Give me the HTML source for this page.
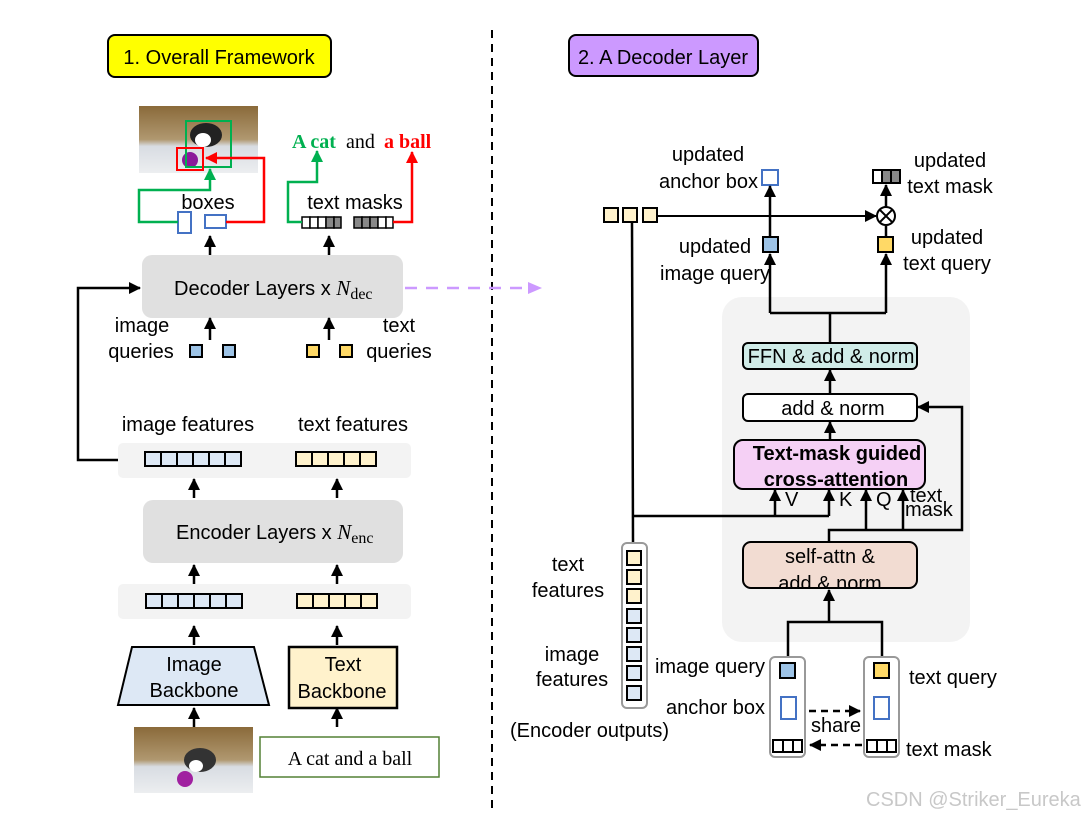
<!DOCTYPE html>
<html><head><meta charset="utf-8"><style>
html,body{margin:0;padding:0;background:#fff;}
svg{display:block;}
text{font-family:"Liberation Sans",sans-serif;font-size:20px;fill:#000;}
.s{font-family:"Liberation Serif",serif;}
</style></head><body>
<svg width="1081" height="817" viewBox="0 0 1081 817" xmlns="http://www.w3.org/2000/svg">
<defs>
<marker id="ak2" markerWidth="12" markerHeight="12" refX="11" refY="6" orient="auto" markerUnits="userSpaceOnUse"><path d="M0,0 L12,6 L0,12 z" fill="#000"/></marker>
<marker id="ag" markerWidth="12" markerHeight="12" refX="11" refY="6" orient="auto" markerUnits="userSpaceOnUse"><path d="M0,0 L12,6 L0,12 z" fill="#00b050"/></marker>
<marker id="ar" markerWidth="12" markerHeight="12" refX="11" refY="6" orient="auto" markerUnits="userSpaceOnUse"><path d="M0,0 L12,6 L0,12 z" fill="#ff0000"/></marker>
<linearGradient id="img" x1="0" y1="0" x2="0" y2="1"><stop offset="0" stop-color="#8a6a3a"/><stop offset="0.5" stop-color="#b09870"/><stop offset="0.6" stop-color="#d8dce2"/><stop offset="1" stop-color="#eceef0"/></linearGradient>
<clipPath id="sa"><rect x="743" y="542" width="174" height="46"/></clipPath>
</defs>

<rect x="108" y="35" width="223" height="42" rx="7" fill="#ffff00" stroke="#000" stroke-width="2"/>
<text x="219" y="64" font-size="21" text-anchor="middle">1. Overall Framework</text>
<rect x="569" y="35" width="189" height="41" rx="7" fill="#cc99ff" stroke="#000" stroke-width="2"/>
<text x="663" y="64" font-size="21" text-anchor="middle">2. A Decoder Layer</text>
<line x1="492" y1="30" x2="492" y2="812" stroke="#000" stroke-width="2" stroke-dasharray="8,6"/>

<rect x="139" y="106" width="119" height="67" fill="url(#img)"/>
<ellipse cx="206" cy="135" rx="16" ry="12" fill="#222"/><ellipse cx="203" cy="140" rx="8" ry="7" fill="#fff"/>
<circle cx="190" cy="160" r="8" fill="#8b1a9a"/>
<rect x="186" y="121" width="45" height="46" fill="none" stroke="#00b050" stroke-width="2"/>
<rect x="177" y="148" width="26" height="22" fill="none" stroke="#ff0000" stroke-width="2"/>

<text x="292" y="148" class="s" font-size="21" font-weight="bold" style="fill:#00b050">A cat</text>
<text x="346" y="148" class="s" font-size="21">and</text>
<text x="384" y="148" class="s" font-size="21" font-weight="bold" style="fill:#ff0000">a ball</text>

<text x="208" y="209" text-anchor="middle">boxes</text>
<rect x="178" y="212" width="13" height="21" fill="#fff" stroke="#4472c4" stroke-width="2"/>
<rect x="205" y="215" width="21" height="13" fill="#fff" stroke="#4472c4" stroke-width="2"/>
<polyline points="178,222 139,222 139,190 210,190 210,169" fill="none" stroke="#00b050" stroke-width="2.5" marker-end="url(#ag)"/>
<polyline points="226,222 264,222 264,158 206,158" fill="none" stroke="#ff0000" stroke-width="2.5" marker-end="url(#ar)"/>

<text x="355" y="209" text-anchor="middle">text masks</text>
<g stroke="#000" stroke-width="1.5">
<rect x="302" y="217" width="8" height="11" fill="#fff"/><rect x="310" y="217" width="8" height="11" fill="#fff"/><rect x="318" y="217" width="8" height="11" fill="#fff"/><rect x="326" y="217" width="8" height="11" fill="#888"/><rect x="334" y="217" width="7" height="11" fill="#888"/>
<rect x="354" y="217" width="8" height="11" fill="#888"/><rect x="362" y="217" width="8" height="11" fill="#888"/><rect x="370" y="217" width="8" height="11" fill="#888"/><rect x="378" y="217" width="8" height="11" fill="#fff"/><rect x="386" y="217" width="7" height="11" fill="#fff"/>
</g>
<polyline points="302,222 288,222 288,182 317,182 317,151" fill="none" stroke="#00b050" stroke-width="2.5" marker-end="url(#ag)"/>
<polyline points="393,222 412,222 412,152" fill="none" stroke="#ff0000" stroke-width="2.5" marker-end="url(#ar)"/>

<g stroke="#000" stroke-width="2.5">
<line x1="210" y1="255" x2="210" y2="236" marker-end="url(#ak2)"/>
<line x1="329" y1="255" x2="329" y2="236" marker-end="url(#ak2)"/>
</g>

<rect x="142" y="255" width="261" height="63" rx="10" fill="#e0e0e0"/>
<text x="174" y="295">Decoder Layers x <tspan class="s" font-style="italic" font-size="21">N</tspan><tspan class="s" font-size="16" dy="4">dec</tspan></text>
<line x1="405" y1="288" x2="528" y2="288" stroke="#cc99ff" stroke-width="2.5" stroke-dasharray="12,9"/>
<path d="M528,282 L542,288 L528,294 z" fill="#cc99ff"/>
<polyline points="118,460 78,460 78,288 140,288" fill="none" stroke="#000" stroke-width="2.5" marker-end="url(#ak2)"/>

<text x="142" y="332" text-anchor="middle">image</text><text x="141" y="358" text-anchor="middle">queries</text>
<text x="399" y="332" text-anchor="middle">text</text><text x="399" y="358" text-anchor="middle">queries</text>
<g stroke="#000" stroke-width="2">
<rect x="190" y="345" width="12" height="12" fill="#9dc3e6"/><rect x="223" y="345" width="12" height="12" fill="#9dc3e6"/>
<rect x="307" y="345" width="12" height="12" fill="#ffd966"/><rect x="340" y="345" width="12" height="12" fill="#ffd966"/>
</g>
<g stroke="#000" stroke-width="2.5">
<line x1="210" y1="340" x2="210" y2="318" marker-end="url(#ak2)"/>
<line x1="329" y1="340" x2="329" y2="318" marker-end="url(#ak2)"/>
</g>

<text x="188" y="431" text-anchor="middle">image features</text><text x="353" y="431" text-anchor="middle">text features</text>
<rect x="118" y="443" width="293" height="35" rx="5" fill="#f3f3f3"/>
<rect x="118" y="584" width="293" height="35" rx="5" fill="#f3f3f3"/>
<g stroke="#000" stroke-width="2">
<g fill="#dde8f5">
<rect x="145" y="452" width="16" height="14"/><rect x="161" y="452" width="16" height="14"/><rect x="177" y="452" width="16" height="14"/><rect x="193" y="452" width="16" height="14"/><rect x="209" y="452" width="16" height="14"/><rect x="225" y="452" width="16" height="14"/>
<rect x="146" y="594" width="16" height="14"/><rect x="162" y="594" width="16" height="14"/><rect x="178" y="594" width="16" height="14"/><rect x="194" y="594" width="16" height="14"/><rect x="210" y="594" width="16" height="14"/><rect x="226" y="594" width="16" height="14"/>
</g>
<g fill="#fff2cc">
<rect x="296" y="452" width="16" height="14"/><rect x="312" y="452" width="16" height="14"/><rect x="328" y="452" width="16" height="14"/><rect x="344" y="452" width="16" height="14"/><rect x="360" y="452" width="16" height="14"/>
<rect x="297" y="594" width="16" height="14"/><rect x="313" y="594" width="16" height="14"/><rect x="329" y="594" width="16" height="14"/><rect x="345" y="594" width="16" height="14"/><rect x="361" y="594" width="16" height="14"/>
</g>
</g>
<rect x="143" y="500" width="260" height="63" rx="10" fill="#e0e0e0"/>
<text x="176" y="539">Encoder Layers x <tspan class="s" font-style="italic" font-size="21">N</tspan><tspan class="s" font-size="16" dy="4">enc</tspan></text>
<g stroke="#000" stroke-width="2.5">
<line x1="194" y1="498" x2="194" y2="479" marker-end="url(#ak2)"/><line x1="337" y1="498" x2="337" y2="479" marker-end="url(#ak2)"/>
<line x1="194" y1="584" x2="194" y2="565" marker-end="url(#ak2)"/><line x1="337" y1="584" x2="337" y2="565" marker-end="url(#ak2)"/>
<line x1="194" y1="645" x2="194" y2="626" marker-end="url(#ak2)"/><line x1="337" y1="645" x2="337" y2="626" marker-end="url(#ak2)"/>
<line x1="194" y1="727" x2="194" y2="708" marker-end="url(#ak2)"/><line x1="337" y1="727" x2="337" y2="708" marker-end="url(#ak2)"/>
</g>
<polygon points="132,647 254,647 269,705 118,705" fill="#dde8f5" stroke="#000" stroke-width="2"/>
<text x="194" y="671" text-anchor="middle">Image</text><text x="194" y="697" text-anchor="middle">Backbone</text>
<rect x="289" y="647" width="108" height="61" fill="#fff2cc" stroke="#000" stroke-width="2.5"/>
<text x="343" y="671" text-anchor="middle">Text</text><text x="342" y="698" text-anchor="middle">Backbone</text>
<rect x="134" y="727" width="119" height="66" fill="url(#img)"/>
<ellipse cx="200" cy="760" rx="16" ry="12" fill="#333"/><ellipse cx="196" cy="766" rx="7" ry="6" fill="#fff"/>
<circle cx="185" cy="779" r="8" fill="#a020a0"/>
<rect x="260" y="737" width="179" height="40" fill="#fff" stroke="#538135" stroke-width="1.5"/>
<text x="350" y="765" class="s" font-size="23" text-anchor="middle">A cat and a ball</text>
<text x="50" y="840" class="s" font-size="36">Figure 4</text>

<!-- right side -->
<rect x="722" y="297" width="248" height="345" rx="20" fill="#f3f3f3"/>
<g stroke="#000" stroke-width="2" fill="#fff2cc">
<rect x="604" y="208" width="14" height="14"/><rect x="623" y="208" width="14" height="14"/><rect x="643" y="208" width="14" height="14"/>
</g>
<line x1="657" y1="216" x2="876" y2="216" stroke="#000" stroke-width="2" marker-end="url(#ak2)"/>
<circle cx="886" cy="216" r="9" fill="#fff" stroke="#000" stroke-width="2"/>
<path d="M880,210 L892,222 M892,210 L880,222" stroke="#000" stroke-width="2"/>
<line x1="632" y1="222" x2="633" y2="543" stroke="#000" stroke-width="2.5"/>

<text x="708" y="161" text-anchor="middle">updated</text><text x="758" y="188" text-anchor="end">anchor box</text>
<rect x="762" y="170" width="16" height="15" fill="#fff" stroke="#4472c4" stroke-width="2"/>
<text x="715" y="253" text-anchor="middle">updated</text><text x="660" y="280">image query</text>
<rect x="763" y="237" width="15" height="15" fill="#9dc3e6" stroke="#000" stroke-width="2"/>
<text x="950" y="167" text-anchor="middle">updated</text><text x="950" y="193" text-anchor="middle">text mask</text>
<g stroke="#000" stroke-width="2"><rect x="873" y="170" width="9" height="13" fill="#fff"/><rect x="882" y="170" width="9" height="13" fill="#888"/><rect x="891" y="170" width="9" height="13" fill="#888"/></g>
<text x="947" y="244" text-anchor="middle">updated</text><text x="947" y="270" text-anchor="middle">text query</text>
<rect x="878" y="237" width="15" height="15" fill="#ffd966" stroke="#000" stroke-width="2"/>

<g stroke="#000" stroke-width="2.5" fill="none">
<line x1="770" y1="237" x2="770" y2="186" marker-end="url(#ak2)"/>
<line x1="886" y1="207" x2="886" y2="185" marker-end="url(#ak2)"/>
<line x1="886" y1="237" x2="886" y2="226"/>
<polyline points="770,313 770,254" marker-end="url(#ak2)"/>
<polyline points="886,313 886,254" marker-end="url(#ak2)"/>
<line x1="770" y1="313" x2="886" y2="313"/>
<line x1="830" y1="313" x2="830" y2="343"/>
<line x1="830" y1="394" x2="830" y2="370" marker-end="url(#ak2)"/>
<line x1="830" y1="440" x2="830" y2="422" marker-end="url(#ak2)"/>
<polyline points="633,516 829,516"/>
<line x1="775" y1="516" x2="775" y2="490" marker-end="url(#ak2)"/>
<line x1="829" y1="516" x2="829" y2="490" marker-end="url(#ak2)"/>
<polyline points="829,542 829,530 962,530 962,407 918,407" marker-end="url(#ak2)"/>
<line x1="866" y1="530" x2="866" y2="490" marker-end="url(#ak2)"/>
<line x1="903" y1="530" x2="903" y2="490" marker-end="url(#ak2)"/>
<line x1="829" y1="622" x2="829" y2="590" marker-end="url(#ak2)"/>
<polyline points="788,657 788,622 882,622 882,657"/>
</g>

<rect x="743" y="343" width="174" height="26" rx="5" fill="#d0ece8" stroke="#000" stroke-width="2"/>
<text x="831" y="363" text-anchor="middle">FFN &amp; add &amp; norm</text>
<rect x="743" y="394" width="174" height="27" rx="5" fill="#fff" stroke="#000" stroke-width="2"/>
<text x="833" y="415" text-anchor="middle">add &amp; norm</text>
<rect x="734" y="440" width="191" height="49" rx="9" fill="#f5d0f5" stroke="#000" stroke-width="2"/>
<text x="837" y="460" text-anchor="middle" font-weight="bold" font-size="18">Text-mask guided</text>
<text x="836" y="486" text-anchor="middle" font-weight="bold" font-size="18">cross-attention</text>
<text x="785" y="506" font-size="18">V</text><text x="839" y="506" font-size="18">K</text><text x="876" y="506" font-size="18">Q</text>
<text x="910" y="502" font-size="18">text</text><text x="905" y="516" font-size="18">mask</text>
<rect x="743" y="542" width="174" height="46" rx="8" fill="#f2dcd2" stroke="#000" stroke-width="2"/>
<g clip-path="url(#sa)">
<text x="830" y="563" text-anchor="middle">self-attn &amp;</text>
<text x="830" y="590" text-anchor="middle">add &amp; norm</text>
</g>

<rect x="622" y="543" width="25" height="165" rx="5" fill="#fff" stroke="#999" stroke-width="2"/>
<g stroke="#000" stroke-width="2">
<rect x="627" y="551" width="14" height="14" fill="#fff2cc"/><rect x="627" y="570" width="14" height="14" fill="#fff2cc"/><rect x="627" y="589" width="14" height="14" fill="#fff2cc"/>
<rect x="627" y="609" width="14" height="14" fill="#dde8f5"/><rect x="627" y="628" width="14" height="14" fill="#dde8f5"/><rect x="627" y="647" width="14" height="14" fill="#dde8f5"/><rect x="627" y="666" width="14" height="14" fill="#dde8f5"/><rect x="627" y="686" width="14" height="14" fill="#dde8f5"/>
</g>
<text x="568" y="571" text-anchor="middle">text</text><text x="568" y="597" text-anchor="middle">features</text>
<text x="572" y="661" text-anchor="middle">image</text><text x="572" y="686" text-anchor="middle">features</text>
<text x="510" y="737">(Encoder outputs)</text>

<rect x="770" y="657" width="35" height="100" rx="5" fill="#fff" stroke="#999" stroke-width="2"/>
<rect x="864" y="657" width="35" height="100" rx="5" fill="#fff" stroke="#999" stroke-width="2"/>
<rect x="780" y="663" width="15" height="15" fill="#9dc3e6" stroke="#000" stroke-width="2"/>
<rect x="874" y="663" width="15" height="15" fill="#ffd966" stroke="#000" stroke-width="2"/>
<rect x="781" y="697" width="15" height="22" fill="#fff" stroke="#4472c4" stroke-width="2"/>
<rect x="874" y="697" width="15" height="22" fill="#fff" stroke="#4472c4" stroke-width="2"/>
<g stroke="#000" stroke-width="2" fill="#fff">
<rect x="773" y="740" width="10" height="12"/><rect x="783" y="740" width="10" height="12"/><rect x="793" y="740" width="9" height="12"/>
<rect x="867" y="740" width="10" height="12"/><rect x="877" y="740" width="10" height="12"/><rect x="887" y="740" width="9" height="12"/>
</g>
<g stroke="#000" stroke-width="2.5" stroke-dasharray="7,5">
<line x1="809" y1="711" x2="860" y2="711" marker-end="url(#ak2)"/>
<line x1="862" y1="745" x2="810" y2="745" marker-end="url(#ak2)"/>
</g>
<text x="836" y="732" font-size="18" text-anchor="middle">share</text>
<text x="765" y="673" text-anchor="end">image query</text>
<text x="765" y="714" text-anchor="end">anchor box</text>
<text x="909" y="684">text query</text>
<text x="906" y="756">text mask</text>

<text x="866" y="806" font-size="17" style="fill:#c8c8c8">CSDN @Striker_Eureka</text>
</svg>
</body></html>
